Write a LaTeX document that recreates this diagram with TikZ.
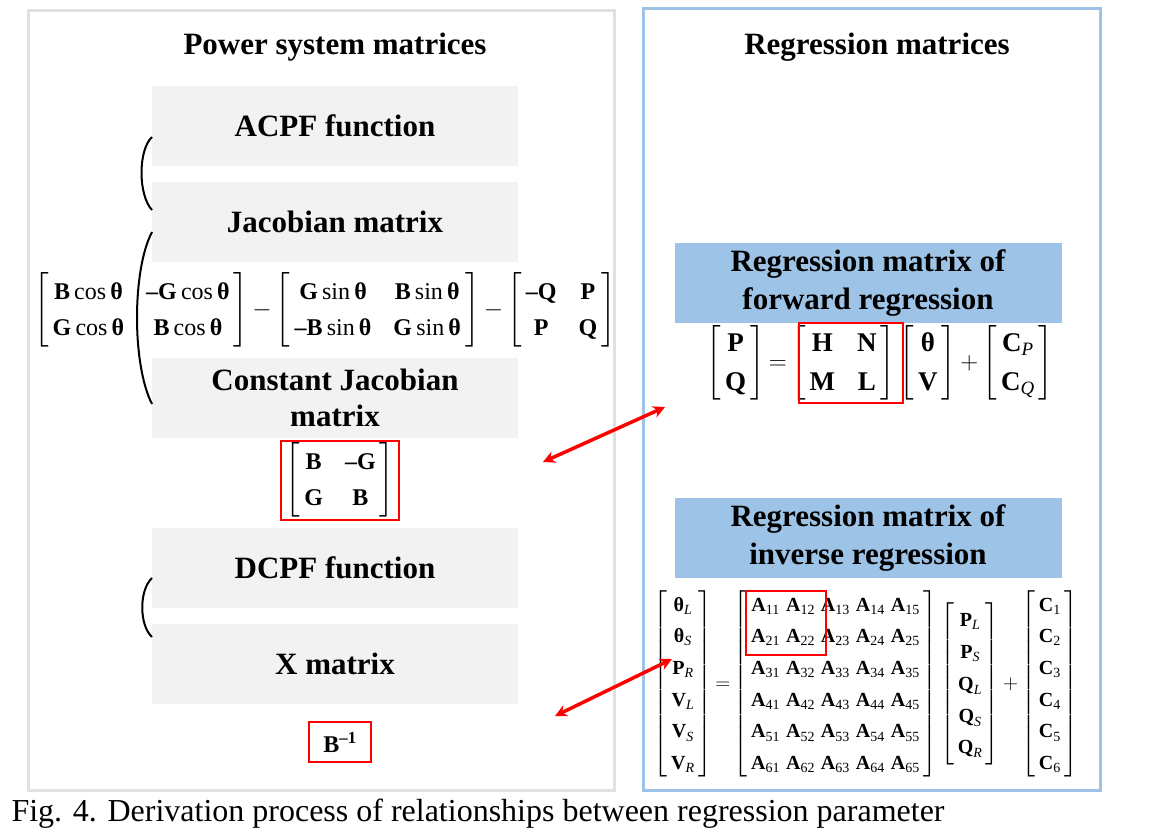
\documentclass[tikz,border=0pt]{standalone}
\usepackage{amsmath}
\usepackage{fontspec}
\setmainfont{Liberation Serif}
\usetikzlibrary{arrows.meta}
\definecolor{boxgray}{HTML}{F2F2F2}
\definecolor{boxblue}{HTML}{9DC3E6}
\definecolor{panelblue}{HTML}{9DC3E6}
\newcommand{\bt}[1]{\text{\bfseries #1}}
\newcommand{\rt}[1]{\text{#1}}
\newcommand{\sbs}[1]{_{\text{\itshape #1}}}
\newcommand{\sbn}[1]{_{\text{#1}}}
\begin{document}
\begin{tikzpicture}[x=1pt,y=-1pt,
  graybox/.style={fill=boxgray,minimum width=366pt,minimum height=80pt,inner sep=0pt,font=\fontsize{31}{36}\selectfont\bfseries,align=center},
  bluebox/.style={fill=boxblue,minimum width=387pt,minimum height=80pt,inner sep=0pt,font=\fontsize{31}{38}\selectfont\bfseries,align=center},
  title/.style={font=\fontsize{31}{35}\selectfont\bfseries},
  mat/.style={font=\fontsize{24}{28}\selectfont,inner sep=0pt},
  redbox/.style={draw=red,line width=2.2pt},
  brace/.style={line width=2pt},
  redarrow/.style={draw=red,line width=3.5pt,{Stealth[length=12pt,width=12pt]}-{Stealth[length=12pt,width=12pt]}}]
\useasboundingbox (0,0) rectangle (1155,833);
\fill[white] (0,0) rectangle (1155,833);
% panels
\draw[line width=3pt,color=black!12] (28,10) rectangle (614,790);
\draw[line width=3pt,color=panelblue] (643,8) rectangle (1100,790);
\node[title] (t1) at (335,47) {Power system matrices};
\node[title] (t2) at (877,47) {Regression matrices};
% gray boxes
\node[graybox] (acpf) at (335,126) {ACPF function};
\node[graybox] (jac) at (335,222) {Jacobian matrix};
\node[graybox] (cjac) at (335,398) {Constant Jacobian\\matrix};
\node[graybox] (dcpf) at (335,568) {DCPF function};
\node[graybox] (xm) at (335,664) {X matrix};
% braces
\draw[brace] (152,137) .. controls (138,150) and (138,195) .. (152,210);
\draw[brace] (152,232) .. controls (132,270) and (132,365) .. (152,404);
\draw[brace] (152,578) .. controls (139,590) and (139,625) .. (152,637);
% Jacobian expression
\node[mat] (jexp) at (325,310) {$\renewcommand{\arraystretch}{1.3}\left[\begin{array}{@{\,}c@{\hspace{22pt}}c@{\,}}
\bt{B}\,\rt{cos}\,\bt{θ} & \bt{–G}\,\rt{cos}\,\bt{θ}\\ \bt{G}\,\rt{cos}\,\bt{θ} & \bt{B}\,\rt{cos}\,\bt{θ}\end{array}\right]
{-}\left[\begin{array}{@{\,}c@{\hspace{22pt}}c@{\,}}
\bt{G}\,\rt{sin}\,\bt{θ} & \bt{B}\,\rt{sin}\,\bt{θ}\\ \bt{–B}\,\rt{sin}\,\bt{θ} & \bt{G}\,\rt{sin}\,\bt{θ}\end{array}\right]
{-}\left[\begin{array}{@{\,}c@{\hspace{22pt}}c@{\,}}
\bt{–Q} & \bt{P}\\ \bt{P} & \bt{Q}\end{array}\right]$};
% constant jacobian matrix
\node[mat] (cmat) at (340,480) {$\renewcommand{\arraystretch}{1.3}\left[\begin{array}{@{\,}c@{\hspace{22pt}}c@{\,}}\bt{B} & \bt{–G}\\ \bt{G} & \bt{B}\end{array}\right]$};
\draw[redbox] (281,441) rectangle (399,520);
\node[mat] (binv) at (340,742) {$\bt{B}^{\bt{–1}}$};
\draw[redbox] (309,722) rectangle (371,762);
% blue boxes
\node[bluebox] (fwd) at (868,283) {Regression matrix of\\forward regression};
\node[bluebox] (inv) at (868,538) {Regression matrix of\\inverse regression};
% forward equation
\node[mat,font=\fontsize{27}{31}\selectfont] (feq) at (880,363) {$\renewcommand{\arraystretch}{1.25}\left[\begin{array}{@{\,}c@{\,}}\bt{P}\\ \bt{Q}\end{array}\right]
{=}\left[\begin{array}{@{\,}c@{\hspace{22pt}}c@{\,}}\bt{H} & \bt{N}\\ \bt{M} & \bt{L}\end{array}\right]
\left[\begin{array}{@{\,}c@{\,}}\bt{θ}\\ \bt{V}\end{array}\right]{+}
\left[\begin{array}{@{\,}c@{\,}}\bt{C}\sbs{P}\\ \bt{C}\sbs{Q}\end{array}\right]$};
\draw[redbox] (799,323) rectangle (903,403);
% inverse equation
\node[mat,font=\fontsize{20}{23}\selectfont] (ieq) at (866,684) {$\renewcommand{\arraystretch}{1.38}\left[\begin{array}{@{\,}c@{\,}}\bt{θ}\sbs{L}\\ \bt{θ}\sbs{S}\\ \bt{P}\sbs{R}\\ \bt{V}\sbs{L}\\ \bt{V}\sbs{S}\\ \bt{V}\sbs{R}\end{array}\right]
{=}\left[\begin{array}{@{\,}c@{\hspace{6pt}}c@{\hspace{6pt}}c@{\hspace{6pt}}c@{\hspace{6pt}}c@{\,}}
\bt{A}\sbn{11}&\bt{A}\sbn{12}&\bt{A}\sbn{13}&\bt{A}\sbn{14}&\bt{A}\sbn{15}\\
\bt{A}\sbn{21}&\bt{A}\sbn{22}&\bt{A}\sbn{23}&\bt{A}\sbn{24}&\bt{A}\sbn{25}\\
\bt{A}\sbn{31}&\bt{A}\sbn{32}&\bt{A}\sbn{33}&\bt{A}\sbn{34}&\bt{A}\sbn{35}\\
\bt{A}\sbn{41}&\bt{A}\sbn{42}&\bt{A}\sbn{43}&\bt{A}\sbn{44}&\bt{A}\sbn{45}\\
\bt{A}\sbn{51}&\bt{A}\sbn{52}&\bt{A}\sbn{53}&\bt{A}\sbn{54}&\bt{A}\sbn{55}\\
\bt{A}\sbn{61}&\bt{A}\sbn{62}&\bt{A}\sbn{63}&\bt{A}\sbn{64}&\bt{A}\sbn{65}\end{array}\right]
\left[\begin{array}{@{\,}c@{\,}}\bt{P}\sbs{L}\\ \bt{P}\sbs{S}\\ \bt{Q}\sbs{L}\\ \bt{Q}\sbs{S}\\ \bt{Q}\sbs{R}\end{array}\right]{+}
\left[\begin{array}{@{\,}c@{\,}}\bt{C}\sbn{1}\\ \bt{C}\sbn{2}\\ \bt{C}\sbn{3}\\ \bt{C}\sbn{4}\\ \bt{C}\sbn{5}\\ \bt{C}\sbn{6}\end{array}\right]$};
\draw[redbox] (746,591) rectangle (826,655);
% arrows
\coordinate (a1) at (543,462); \coordinate (a2) at (665,407);
\coordinate (b1) at (555,716); \coordinate (b2) at (672,659);
\draw[redarrow] (a1) -- (a2);
\draw[redarrow] (b1) -- (b2);
% caption
\node[font=\fontsize{32}{36}\selectfont,anchor=west] (cap) at (8,814) {Fig. 4. Derivation process of relationships between regression parameter};
\end{tikzpicture}
\end{document}
